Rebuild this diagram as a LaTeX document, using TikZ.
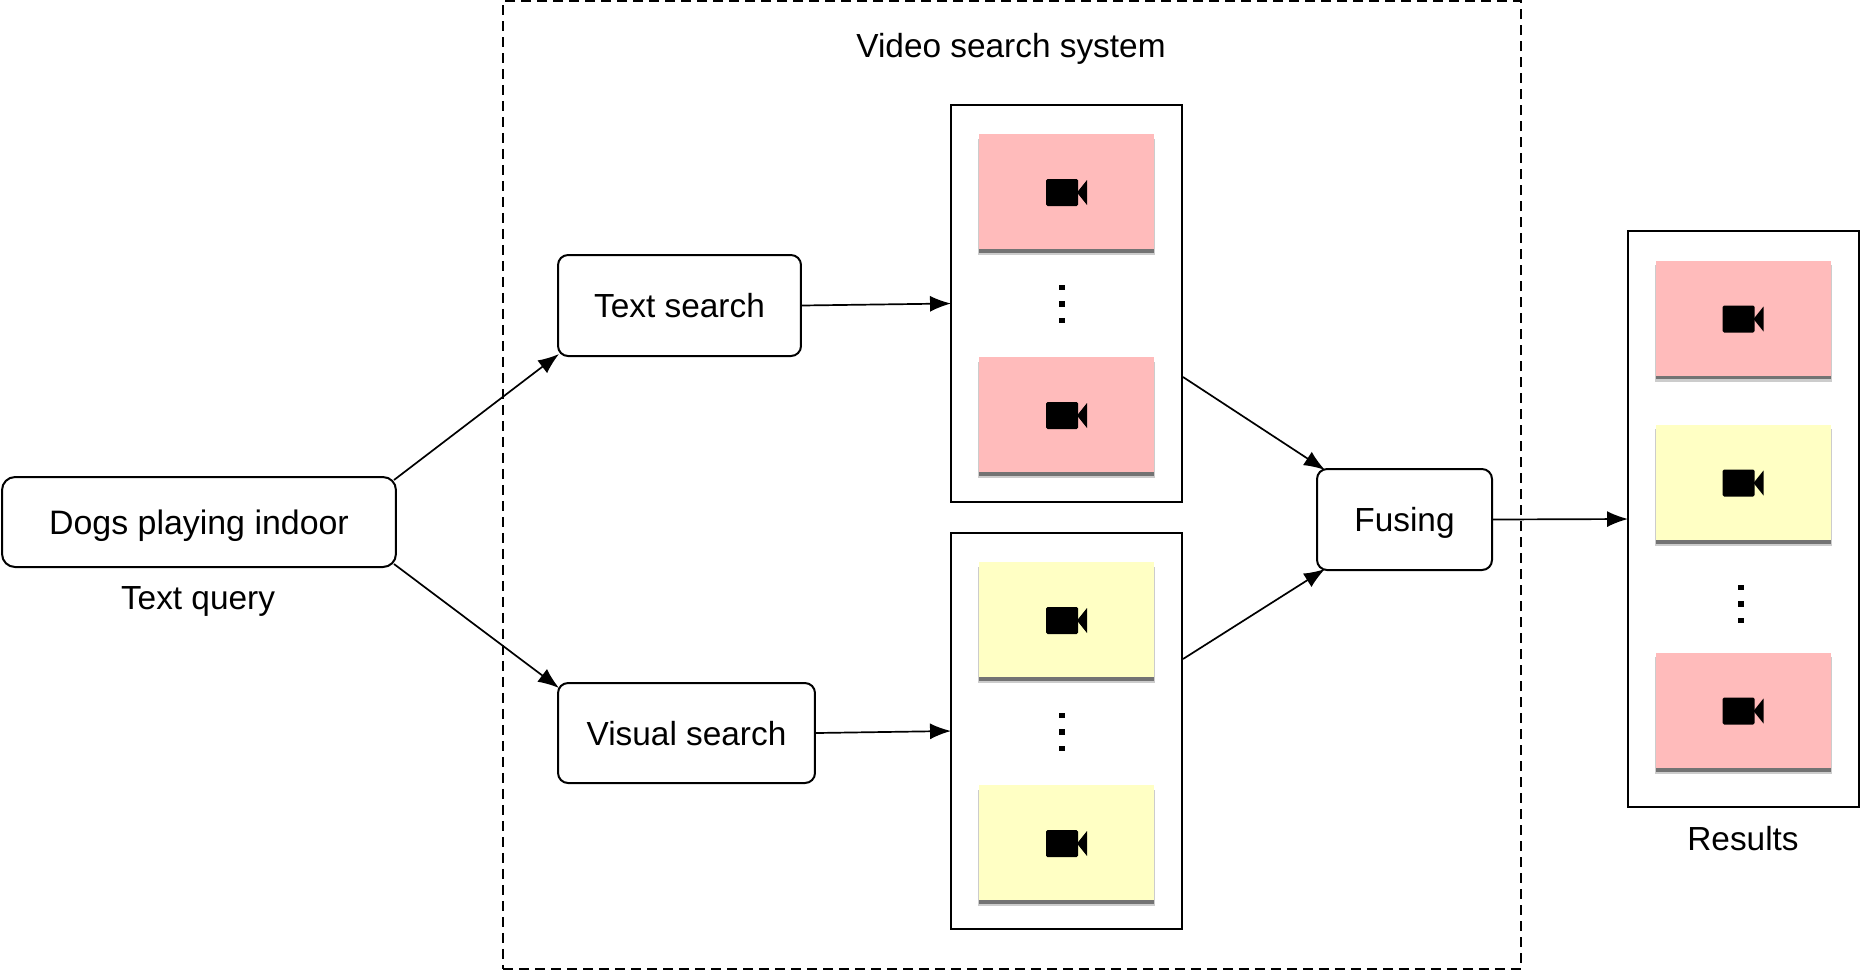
\documentclass[tikz,border=0pt]{standalone}
\usepackage{fontspec}
\setmainfont{Liberation Sans}
\usetikzlibrary{arrows.meta,positioning,shadows}

\definecolor{cardpink}{HTML}{FFBBBB}
\definecolor{cardyellow}{HTML}{FFFFC4}

\tikzset{
  lbl/.style={font=\fontsize{19}{23}\selectfont, inner sep=0pt, text height=16pt, text depth=2.1pt},
  stepbox/.style={draw, line width=0.04cm, rounded corners=0.2cm, lbl, align=center},
  listbox/.style={draw, line width=0.04cm, inner sep=0pt},
  card/.style={inner sep=0pt, minimum width=3.5cm, minimum height=2.3cm,
    general shadow={shadow xshift=0cm, shadow yshift=-0.11cm, shadow scale=1.012, fill=black!20},
    general shadow={shadow xshift=0cm, shadow yshift=-0.08cm, fill=black!55}},
  arr/.style={-{Latex[length=0.42cm,width=0.32cm]}, line width=0.034cm},
  camera/.pic={
    \fill[rounded corners=0.03cm] (-20.5,-13.5) rectangle (11.5,13.5);
    \fill (10.5,0) -- (20.5,-12.5) -- (20.5,12.5) -- cycle;
  },
  morecards/.pic={
    \foreach \d in {-16.5,0,16.5}
      \fill (-2.8,\d-2.8) rectangle (2.8,\d+2.8);
  }
}

\begin{document}
\begin{tikzpicture}[x=0.02cm,y=-0.02cm]
\useasboundingbox (0,0) rectangle (1861,971);

% Search system frame
\node[draw, dashed, dash pattern=on 0.2cm off 0.12cm, line width=0.03cm, minimum width=20.36cm, minimum height=19.36cm] (system) at (1012,485) {};
\node[lbl] (title) at (1011,45) {Video search system};

% Query
\node[stepbox, font=\fontsize{19.3}{23}\selectfont, rounded corners=0.26cm, minimum width=7.88cm, minimum height=1.8cm] (query) at (199,522) {Dogs playing indoor};
\node[lbl] (querylabel) at (198,597) {Text query};

% Searches
\node[stepbox, minimum width=4.86cm, minimum height=2.02cm] (textsearch) at (679.5,305.5) {Text search};
\node[stepbox, minimum width=5.14cm, minimum height=2cm] (visualsearch) at (686.5,733) {Visual search};
\node[stepbox, minimum width=3.5cm, minimum height=2.02cm] (fusing) at (1404.5,519.5) {Fusing};

% Ranked lists
\node[listbox, minimum width=4.62cm, minimum height=7.94cm] (textlist) at (1066.5,303.5) {};
\node[listbox, minimum width=4.62cm, minimum height=7.93cm] (visuallist) at (1066.5,731) {};
\node[listbox, minimum width=4.62cm, minimum height=11.52cm] (results) at (1743.5,519) {};
\node[lbl] (resultslabel) at (1743,838) {Results};

% Cards
\foreach \name/\col/\x/\y in {a/cardpink/1066.5/191.5, b/cardpink/1066.5/414.5,
    c/cardyellow/1066.5/619.5, d/cardyellow/1066.5/842.5,
    e/cardpink/1743/318, f/cardyellow/1743/482, g/cardpink/1743/710} {
  \node[card, fill=\col] (card\name) at (\x,\y) {};
  \pic at ([yshift=-0.02cm]card\name) {camera};
}

% Dots
\pic at (1062,304) {morecards};
\pic at (1062,732) {morecards};
\pic at (1741,604) {morecards};

% Arrows
\draw[arr] ([shift={(-3,4)}]query.north east) -- ([shift={(2,-3)}]textsearch.south west);
\draw[arr] ([shift={(-3,-4)}]query.south east) -- ([shift={(2,6)}]visualsearch.north west);
\draw[arr] (textsearch.east) -- ([xshift=0.02cm]textlist.west);
\draw[arr] (visualsearch.east) -- ([xshift=0.02cm]visuallist.west);
\draw[arr] ([yshift=-1.47cm]textlist.east) -- ([shift={(9,2)}]fusing.north west);
\draw[arr] ([yshift=1.44cm]visuallist.east) -- ([shift={(9,-2)}]fusing.south west);
\draw[arr] (fusing.east) -- ([xshift=0.02cm]results.west);

\end{tikzpicture}
\end{document}
